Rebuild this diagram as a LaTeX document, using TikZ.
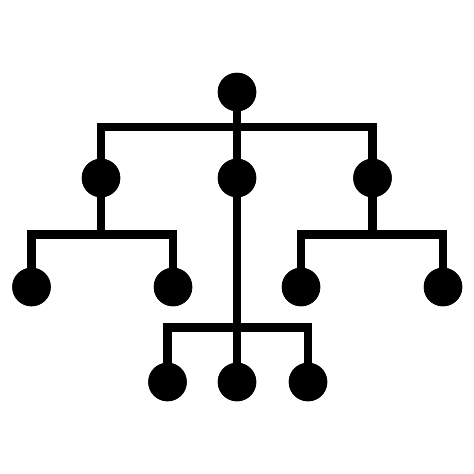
\documentclass[tikz,border=0pt]{standalone}
\begin{document}
\begin{tikzpicture}[x=1pt,y=-1pt,
  dot/.style={circle,fill=black,inner sep=0pt,minimum size=38.5pt},
  wire/.style={line width=8.5pt,line join=miter,line cap=butt}]
\useasboundingbox[fill=white] (0,0) rectangle (474,474);
% nodes
\node[dot] (r) at (237,92) {};
\node[dot] (a) at (101,178) {};
\node[dot] (b) at (237,178) {};
\node[dot] (c) at (372.5,178) {};
\node[dot] (a1) at (31.5,287) {};
\node[dot] (a2) at (173,287) {};
\node[dot] (c1) at (301,287) {};
\node[dot] (c2) at (443,287) {};
\node[dot] (b1) at (167.5,382) {};
\node[dot] (b2) at (237,382) {};
\node[dot] (b3) at (308,382) {};
% junctions
\coordinate (j0) at (237,127);
\coordinate (ja) at (101,234.5);
\coordinate (jc) at (372.5,234.5);
\coordinate (jb) at (237,327.5);
% connectors
\draw[wire] (a.center) -- (a.center |- j0) -- (c.center |- j0) -- (c.center);
\draw[wire] (r.center) -- (b2.center);
\draw[wire] (a.center) -- (ja);
\draw[wire] (a1.center) -- (a1.center |- ja) -- (a2.center |- ja) -- (a2.center);
\draw[wire] (c.center) -- (jc);
\draw[wire] (c1.center) -- (c1.center |- jc) -- (c2.center |- jc) -- (c2.center);
\draw[wire] (b1.center) -- (b1.center |- jb) -- (b3.center |- jb) -- (b3.center);
% redraw dots on top
\foreach \n in {r,a,b,c,a1,a2,c1,c2,b1,b2,b3} \fill (\n) circle (19.25pt);
\end{tikzpicture}
\end{document}
